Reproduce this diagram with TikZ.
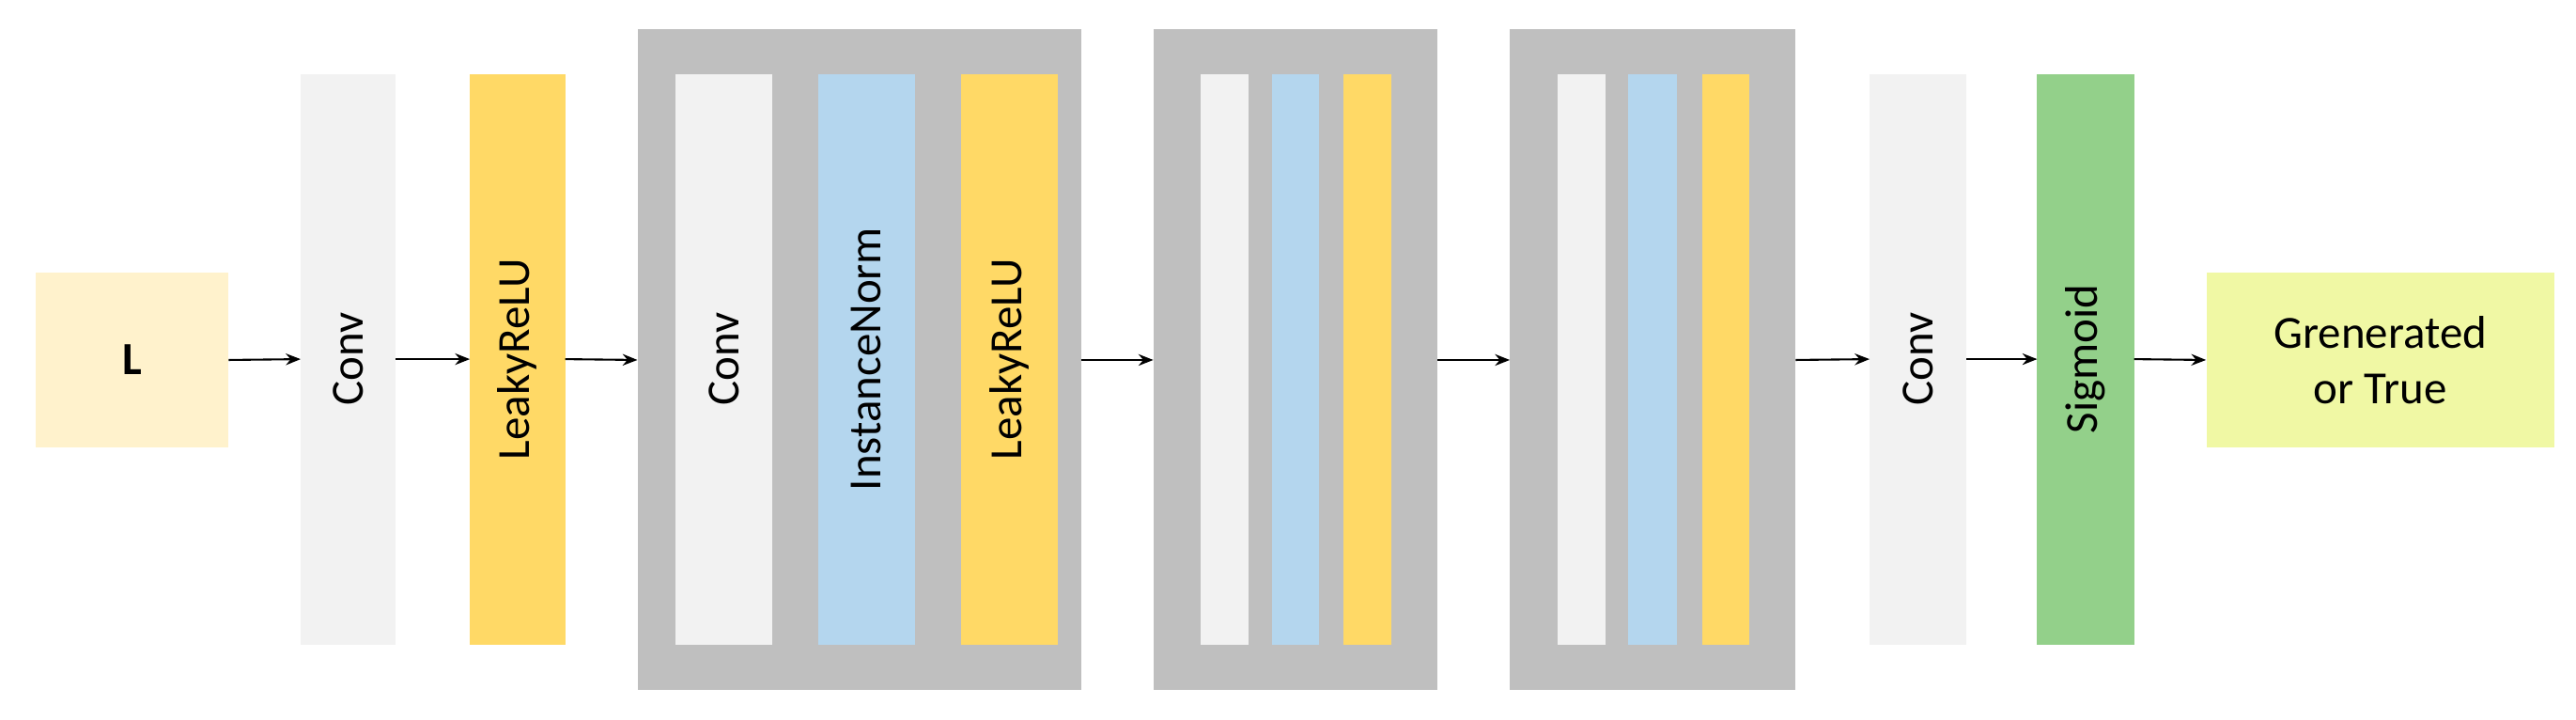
\documentclass[tikz,border=0pt]{standalone}
\usepackage{fontspec}
\setmainfont{Carlito}
\usetikzlibrary{arrows.meta}
\definecolor{cgray}{HTML}{F2F2F2}
\definecolor{cyel}{HTML}{FFD966}
\definecolor{cblue}{HTML}{B4D6EE}
\definecolor{cgrn}{HTML}{93D08A}
\definecolor{cblk}{HTML}{BFBFBF}
\definecolor{cin}{HTML}{FFF2CC}
\definecolor{cout}{HTML}{F0F8A4}
\begin{document}
\begin{tikzpicture}[x=1pt,y=-1pt,
  txt/.style={font=\fontsize{28}{34}\selectfont},
  layer/.style={minimum width=#1,minimum height=347pt,inner sep=0pt,outer sep=0pt},
  blk/.style={fill=cblk,minimum width=#1,minimum height=402pt,inner sep=0pt,outer sep=0pt},
  arr/.style={-{Stealth[length=9pt,width=7pt]},line width=1.2pt}]
\useasboundingbox (0,0) rectangle (1568,438);
% blocks
\node[blk=270pt] (b1) at (523,219) {};
\node[blk=173pt] (b2) at (788.5,219) {};
\node[blk=174pt] (b3) at (1006,219) {};
% input
\node[fill=cin,minimum width=117pt,minimum height=106pt,font=\fontsize{28}{34}\selectfont\bfseries] (in) at (80.5,219) {L};
% layers
\node[layer=58pt,fill=cgray] (c1) at (212,218.5) {};
\node[rotate=90,txt] (c1t) at (c1) {Conv};
\node[layer=58pt,fill=cyel] (r1) at (315,218.5) {};
\node[rotate=90,txt] (r1t) at (r1) {LeakyReLU};
\node[layer=59pt,fill=cgray] (c2) at (440.5,218.5) {};
\node[rotate=90,txt] (c2t) at (c2) {Conv};
\node[layer=59pt,fill=cblue] (n2) at (527.5,218.5) {};
\node[rotate=90,txt] (n2t) at (n2) {InstanceNorm};
\node[layer=59pt,fill=cyel] (r2) at (614.5,218.5) {};
\node[rotate=90,txt] (r2t) at (r2) {LeakyReLU};
\node[layer=29pt,fill=cgray] at (745.5,218.5) {};
\node[layer=29pt,fill=cblue] at (788.5,218.5) {};
\node[layer=29pt,fill=cyel] at (832.5,218.5) {};
\node[layer=29pt,fill=cgray] at (962.5,218.5) {};
\node[layer=30pt,fill=cblue] at (1006,218.5) {};
\node[layer=29pt,fill=cyel] at (1050.5,218.5) {};
\node[layer=59pt,fill=cgray] (c4) at (1167.5,218.5) {};
\node[rotate=90,txt] (c4t) at (c4) {Conv};
\node[layer=59pt,fill=cgrn] (sg) at (1269.5,218.5) {};
\node[rotate=90,txt] (sgt) at (sg) {Sigmoid};
\node[fill=cout,minimum width=212pt,minimum height=106pt,txt,align=center] (out) at (1449,219) {Grenerated\\or True};
% arrows
\draw[arr] (in.east) -- (c1.west);
\draw[arr] (c1.east) -- (r1.west);
\draw[arr] (r1.east) -- (b1.west);
\draw[arr] (b1.east) -- (b2.west);
\draw[arr] (b2.east) -- (b3.west);
\draw[arr] (b3.east) -- (c4.west);
\draw[arr] (c4.east) -- (sg.west);
\draw[arr] (sg.east) -- (out.west);
\end{tikzpicture}
\end{document}
